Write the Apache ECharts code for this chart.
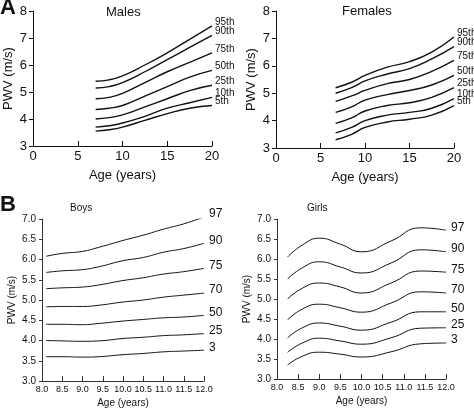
<!DOCTYPE html>
<html><head><meta charset="utf-8">
<script src="https://cdn.jsdelivr.net/npm/echarts@6/dist/echarts.min.js"></script>
<style>html,body{margin:0;padding:0;background:#fff}#c{width:474px;height:410px}</style>
</head><body><div id="c"></div>
<script>
// panel A data
var maleAges = [7, 8.5, 10, 12.5, 15, 17.5, 20];
var maleNames = ["95th", "90th", "75th", "50th", "25th", "10th", "5th"];
var maleVals = [
    [5.4, 5.45, 5.6, 6.0, 6.45, 6.95, 7.45],
    [5.15, 5.2, 5.35, 5.75, 6.2, 6.65, 7.1],
    [4.75, 4.8, 4.95, 5.35, 5.75, 6.1, 6.45],
    [4.35, 4.4, 4.5, 4.85, 5.2, 5.55, 5.8],
    [4.0, 4.05, 4.15, 4.45, 4.75, 5.05, 5.25],
    [3.7, 3.75, 3.85, 4.1, 4.4, 4.6, 4.8],
    [3.55, 3.6, 3.7, 3.95, 4.2, 4.4, 4.5]
];
var femaleAges = [6.7, 8.5, 10, 12.5, 15, 17.5, 20];
var femaleVals = [
    [5.2, 5.4, 5.65, 5.95, 6.15, 6.5, 7.05],
    [5.0, 5.2, 5.45, 5.7, 5.9, 6.25, 6.7],
    [4.7, 4.9, 5.1, 5.35, 5.5, 5.8, 6.2],
    [4.3, 4.5, 4.75, 4.95, 5.1, 5.3, 5.65],
    [3.9, 4.1, 4.35, 4.55, 4.65, 4.85, 5.2],
    [3.55, 3.75, 4.0, 4.2, 4.3, 4.45, 4.8],
    [3.3, 3.5, 3.75, 3.95, 4.05, 4.2, 4.55]
];
// panel B data
var bNames = ["97", "90", "75", "70", "50", "25", "3"];
var boyAges = [8.1, 8.5, 9, 9.4, 10, 10.5, 11, 11.5, 12];
var boyVals = [
    [6.08, 6.15, 6.2, 6.3, 6.47, 6.6, 6.75, 6.88, 7.05],
    [5.68, 5.72, 5.75, 5.82, 5.97, 6.05, 6.18, 6.27, 6.4],
    [5.28, 5.3, 5.32, 5.37, 5.48, 5.55, 5.64, 5.7, 5.78],
    [4.83, 4.84, 4.84, 4.87, 4.95, 5.0, 5.07, 5.12, 5.17],
    [4.4, 4.4, 4.39, 4.42, 4.48, 4.52, 4.56, 4.58, 4.62],
    [4.0, 3.99, 3.98, 3.99, 4.05, 4.08, 4.12, 4.14, 4.17],
    [3.6, 3.6, 3.59, 3.6, 3.65, 3.68, 3.72, 3.74, 3.76]
];
var girlAges = [8.25, 8.6, 9.0, 9.5, 10.0, 10.7, 11.4, 12];
var girlVals = [
    [6.05, 6.35, 6.52, 6.37, 6.18, 6.45, 6.78, 6.72],
    [5.5, 5.78, 5.93, 5.8, 5.65, 5.9, 6.23, 6.18],
    [5.0, 5.27, 5.4, 5.3, 5.15, 5.4, 5.7, 5.67],
    [4.48, 4.75, 4.87, 4.78, 4.67, 4.9, 5.18, 5.15],
    [4.03, 4.28, 4.4, 4.32, 4.22, 4.42, 4.68, 4.68],
    [3.67, 3.9, 4.02, 3.95, 3.87, 4.03, 4.27, 4.28],
    [3.35, 3.57, 3.67, 3.62, 3.55, 3.68, 3.88, 3.9]
];

var chart = echarts.init(document.getElementById("c"));
var font = "Liberation Sans, Arial, sans-serif";
var black = "#111";

function axesA(i) {
    return {
        x: {
            gridIndex: i, type: "value", min: 0, max: 20, interval: 5,
            name: "Age (years)", nameLocation: "middle", nameGap: 23,
            nameTextStyle: {color: black, fontSize: 13, fontFamily: font},
            axisLine: {lineStyle: {color: black}}, axisTick: {inside: true, length: 5, lineStyle: {color: black}},
            axisLabel: {color: black, fontSize: 13, fontFamily: font, margin: 4},
            splitLine: {show: false}
        },
        y: {
            gridIndex: i, type: "value", min: 3, max: 8, interval: 1,
            name: "PWV (m/s)", nameLocation: "middle", nameGap: 18,
            nameTextStyle: {color: black, fontSize: 13, fontFamily: font},
            axisLine: {show: true, lineStyle: {color: black}}, axisTick: {length: 4, lineStyle: {color: black}},
            axisLabel: {color: black, fontSize: 13, fontFamily: font, margin: 6},
            splitLine: {show: false}
        }
    };
}
function axesB(i) {
    return {
        x: {
            gridIndex: i, type: "value", min: 8, max: 12, interval: 0.5,
            name: "Age (years)", nameLocation: "middle", nameGap: 17,
            nameTextStyle: {color: black, fontSize: 10, fontFamily: font},
            axisLine: {lineStyle: {color: "#333"}}, axisTick: {inside: true, length: 5, lineStyle: {color: "#333"}},
            axisLabel: {color: black, fontSize: 9, fontFamily: font, margin: 4,
                formatter: function (v) { return v.toFixed(1); }},
            splitLine: {show: false}
        },
        y: {
            gridIndex: i, type: "value", min: 3, max: 7, interval: 0.5,
            name: "PWV (m/s)", nameLocation: "middle", nameGap: 25,
            nameTextStyle: {color: black, fontSize: 10, fontFamily: font},
            axisLine: {show: true, lineStyle: {color: "#333"}}, axisTick: {length: 3, lineStyle: {color: "#333"}},
            axisLabel: {color: black, fontSize: 10, fontFamily: font, margin: 6,
                formatter: function (v) { return v.toFixed(1); }},
            splitLine: {show: false}
        }
    };
}

var grids = [
    {left: 33, top: 11, width: 179, height: 135},
    {left: 276, top: 11, width: 178, height: 137},
    {left: 42, top: 219, width: 162, height: 162},
    {left: 277, top: 219, width: 169, height: 160}
];
var xAxes = [], yAxes = [];
[axesA(0), axesA(1), axesB(2), axesB(3)].forEach(function (a) {
    xAxes.push(a.x);
    yAxes.push(a.y);
});

var series = [];
function addSeries(idx, ages, names, vals, lw, fs) {
    for (var k = 0; k < vals.length; k++) {
        series.push({
            type: "line", xAxisIndex: idx, yAxisIndex: idx, name: names[k],
            data: ages.map(function (a, j) { return [a, vals[k][j]]; }),
            smooth: 0.5, showSymbol: false, silent: true,
            lineStyle: {color: black, width: lw},
            endLabel: {show: true, formatter: names[k], color: black, fontSize: fs,
                fontFamily: font, distance: 3, offset: idx < 2 ? [0, -4] : [2, -3]}
        });
    }
}
addSeries(0, maleAges, maleNames, maleVals, 1.4, 10);
addSeries(1, femaleAges, maleNames, femaleVals, 1.4, 10);
addSeries(2, boyAges, bNames, boyVals, 1, 12);
addSeries(3, girlAges, bNames, girlVals, 1, 12);

chart.setOption({
    animation: false,
    grid: grids,
    xAxis: xAxes,
    yAxis: yAxes,
    series: series,
    graphic: [
        {type: "text", left: 0, top: -3, style: {text: "A", font: "bold 22px " + font, fill: black}},
        {type: "text", left: 0, top: 194, style: {text: "B", font: "bold 22px " + font, fill: black}},
        {type: "text", left: 106, top: 6, style: {text: "Males", font: "13px " + font, fill: black}},
        {type: "text", left: 342, top: 5, style: {text: "Females", font: "13px " + font, fill: black}},
        {type: "text", left: 70, top: 203, style: {text: "Boys", font: "10px " + font, fill: black}},
        {type: "text", left: 307, top: 203, style: {text: "Girls", font: "10px " + font, fill: black}}
    ]
});
</script>
</body></html>
